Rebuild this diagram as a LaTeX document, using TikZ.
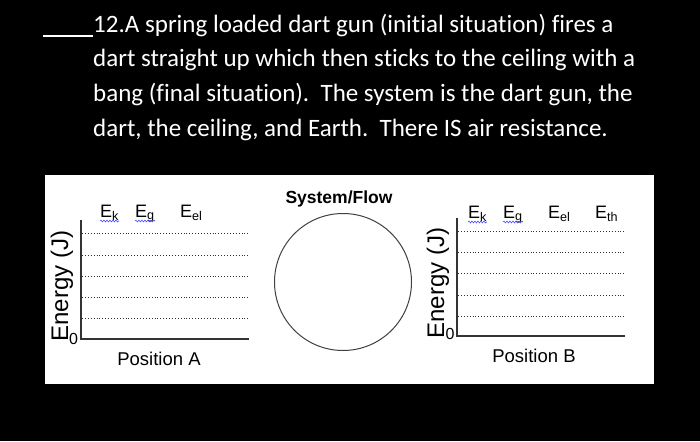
\documentclass[tikz,border=0pt]{standalone}
\usepackage{fontspec}
\setmainfont{Liberation Sans}
\newfontfamily\carlito[Ligatures=CommonOff]{Carlito}
\usetikzlibrary{decorations.pathmorphing}

\tikzset{
  qline/.style={anchor=base west,inner sep=0pt,text=white,font=\carlito\fontsize{25}{29}\selectfont},
  elabel/.style={anchor=base west,inner sep=0pt,font=\fontsize{18}{20}\selectfont},
  axislabel/.style={rotate=90,inner sep=0pt,font=\fontsize{24}{26}\selectfont},
  poslabel/.style={anchor=base,inner sep=0pt,font=\fontsize{18.5}{20}\selectfont},
  zerolabel/.style={inner sep=0pt,font=\fontsize{16}{18}\selectfont},
  squiggle/.style={draw=blue!70!white,line width=0.6pt,decorate,decoration={snake,amplitude=0.9pt,segment length=3pt}},
  gridline/.style={line width=0.9pt,dotted,black!80},
  axis/.style={line width=1.3pt,black!80}
}

\begin{document}
\begin{tikzpicture}[x=1pt,y=-1pt]
  \fill[black] (0,0) rectangle (700,441);
  \useasboundingbox (0,0) rectangle (700,441);
  % question text
  \draw[white,line width=1.2pt] (43,36) -- (93,36);
  \node[qline] (line1) at (93,33) {12.A spring loaded dart gun (initial situation) fires a};
  \node[qline] (line2) at (93,67) {dart straight up which then sticks to the ceiling with a};
  \node[qline] (line3) at (93,101) {bang (final situation).\ \ The system is the dart gun, the};
  \node[qline] (line4) at (93,136) {dart, the ceiling, and Earth.\ \ There IS air resistance.};
  % white panel
  \fill[white] (45,175) rectangle (654,384);
  % position A
  \coordinate (oA) at (81,339);
  \draw[axis] (81,220) -- (oA) -- (249,339);
  \foreach \y in {233,255,276,297,318}
    \draw[gridline] (82,\y) -- (249,\y);
  \node[zerolabel] (zA) at (73.5,339) {0};
  \node[axislabel] (enA) at (62,286) {Energy (J)};
  \node[elabel] (ekA) at (100,217) {E\textsubscript{k}};
  \node[elabel] (egA) at (135,217) {E\textsubscript{g}};
  \node[elabel] (eelA) at (180,217) {E\textsubscript{el}};
  \draw[squiggle] ([yshift=-4pt]ekA.base west) -- ([yshift=-4pt]ekA.base east);
  \draw[squiggle] ([yshift=-4pt]egA.base west) -- ([yshift=-4pt]egA.base east);
  \node[poslabel] (posA) at (159,365) {Position A};
  % system / flow
  \node[anchor=base,inner sep=0pt,font=\bfseries\fontsize{17.5}{20}\selectfont] (sys) at (339,203) {System/Flow};
  \node[draw=black!75,line width=1pt,circle,minimum size=137pt,inner sep=0pt] (flow) at (343,282) {};
  % position B
  \coordinate (oB) at (457,336);
  \draw[axis] (457,218) -- (oB) -- (625,336);
  \foreach \y in {231,252,273,295,316}
    \draw[gridline] (458,\y) -- (625,\y);
  \node[zerolabel] (zB) at (450,334) {0};
  \node[axislabel] (enB) at (438,283) {Energy (J)};
  \node[elabel] (ekB) at (468,218) {E\textsubscript{k}};
  \node[elabel] (egB) at (503,218) {E\textsubscript{g}};
  \node[elabel] (eelB) at (548,218) {E\textsubscript{el}};
  \node[elabel] (ethB) at (595,218) {E\textsubscript{th}};
  \draw[squiggle] ([yshift=-4pt]ekB.base west) -- ([yshift=-4pt]ekB.base east);
  \draw[squiggle] ([yshift=-4pt]egB.base west) -- ([yshift=-4pt]egB.base east);
  \node[poslabel] (posB) at (534,362) {Position B};
\end{tikzpicture}
\end{document}
